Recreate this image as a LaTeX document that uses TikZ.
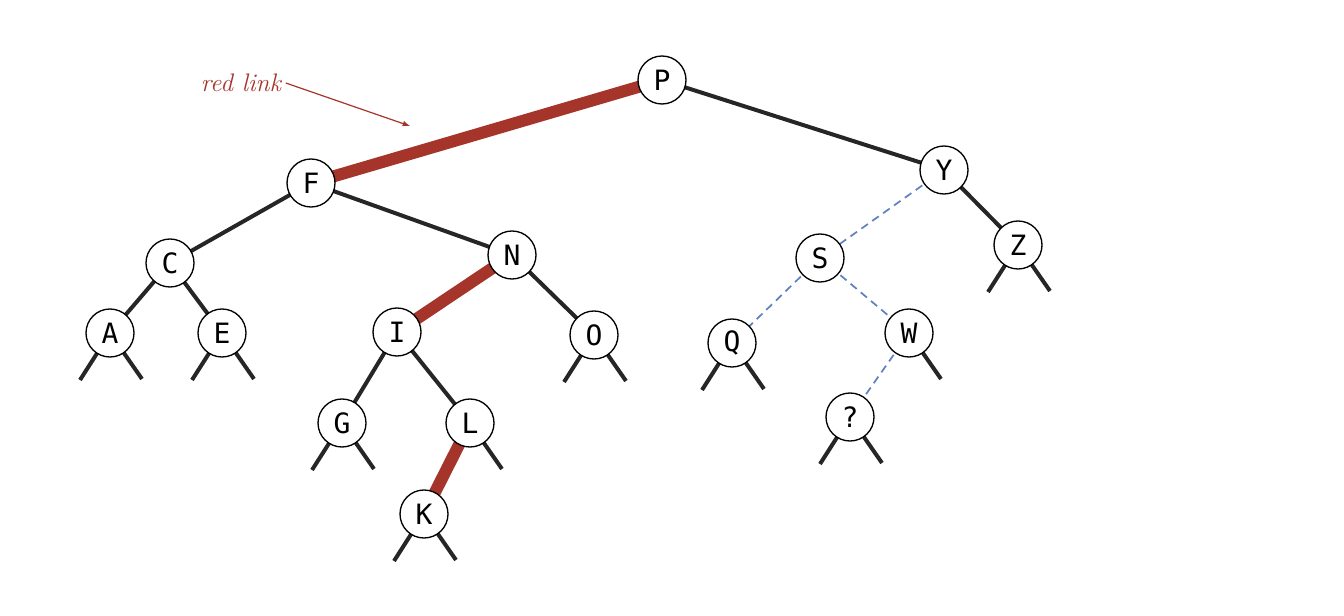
\documentclass[tikz,border=0pt]{standalone}
\usepackage{fontspec}
\setmonofont{DejaVu Sans Mono}
\definecolor{redlink}{RGB}{165,52,42}
\definecolor{bluedash}{RGB}{95,130,190}
\begin{document}
\begin{tikzpicture}[x=0.75pt,y=-0.75pt,
  nd/.style={circle,draw,line width=1pt,fill=white,minimum size=36pt,inner sep=0pt,font=\ttfamily\fontsize{21}{22}\selectfont},
  blk/.style={line width=3pt,black!85},
  red/.style={line width=9pt,redlink},
  dsh/.style={line width=1.3pt,bluedash,dashed,dash pattern=on 6pt off 4pt}]
\useasboundingbox (0,0) rectangle (1344,616);
\coordinate (o) at (0,0);
% edges first
\path (662,80) coordinate (cP) (311,183) coordinate (cF) (944,170) coordinate (cY)
 (170,263) coordinate (cC) (512,255) coordinate (cN) (820,258) coordinate (cS)
 (1018,245) coordinate (cZ) (110,333) coordinate (cA) (222,333) coordinate (cE)
 (397,332) coordinate (cI) (594,335) coordinate (cO) (732,343) coordinate (cQ)
 (909,333) coordinate (cW) (342,423) coordinate (cG) (470,423) coordinate (cL)
 (850,417) coordinate (cX) (424,514) coordinate (cK);
\draw[red] (cP) -- (cF);
\draw[blk] (cP) -- (cY);
\draw[blk] (cF) -- (cC);
\draw[blk] (cF) -- (cN);
\draw[blk] (cC) -- (cA);
\draw[blk] (cC) -- (cE);
\draw[red] (cN) -- (cI);
\draw[blk] (cN) -- (cO);
\draw[blk] (cI) -- (cG);
\draw[blk] (cI) -- (cL);
\draw[red] (cL) -- (cK);
\draw[dsh] (cY) -- (cS);
\draw[blk] (cY) -- (cZ);
\draw[dsh] (cS) -- (cQ);
\draw[dsh] (cS) -- (cW);
\draw[dsh] (cW) -- (cX);
% leaf stubs
\foreach \c in {A,E,G,K,O,Q,X,Z}{
  \draw[blk] (c\c) -- ++(-30,47);
  \draw[blk] (c\c) -- ++(32,46);
}
\draw[blk] (cL) -- ++(32,46);
\draw[blk] (cW) -- ++(32,46);
% nodes
\foreach \c/\t in {P/P,F/F,Y/Y,C/C,N/N,S/S,Z/Z,A/A,E/E,I/I,O/O,Q/Q,W/W,G/G,L/L,X/?,K/K}{
  \node[nd] (n\c) at (c\c) {\t};
}
\node[font=\itshape\fontsize{19}{20}\selectfont,text=redlink] (lbl) at (241,83) {red link};
\coordinate (tip) at (410,126);
\draw[redlink,line width=0.9pt,-{latex}] (lbl.east) -- (tip);
\end{tikzpicture}
\end{document}
